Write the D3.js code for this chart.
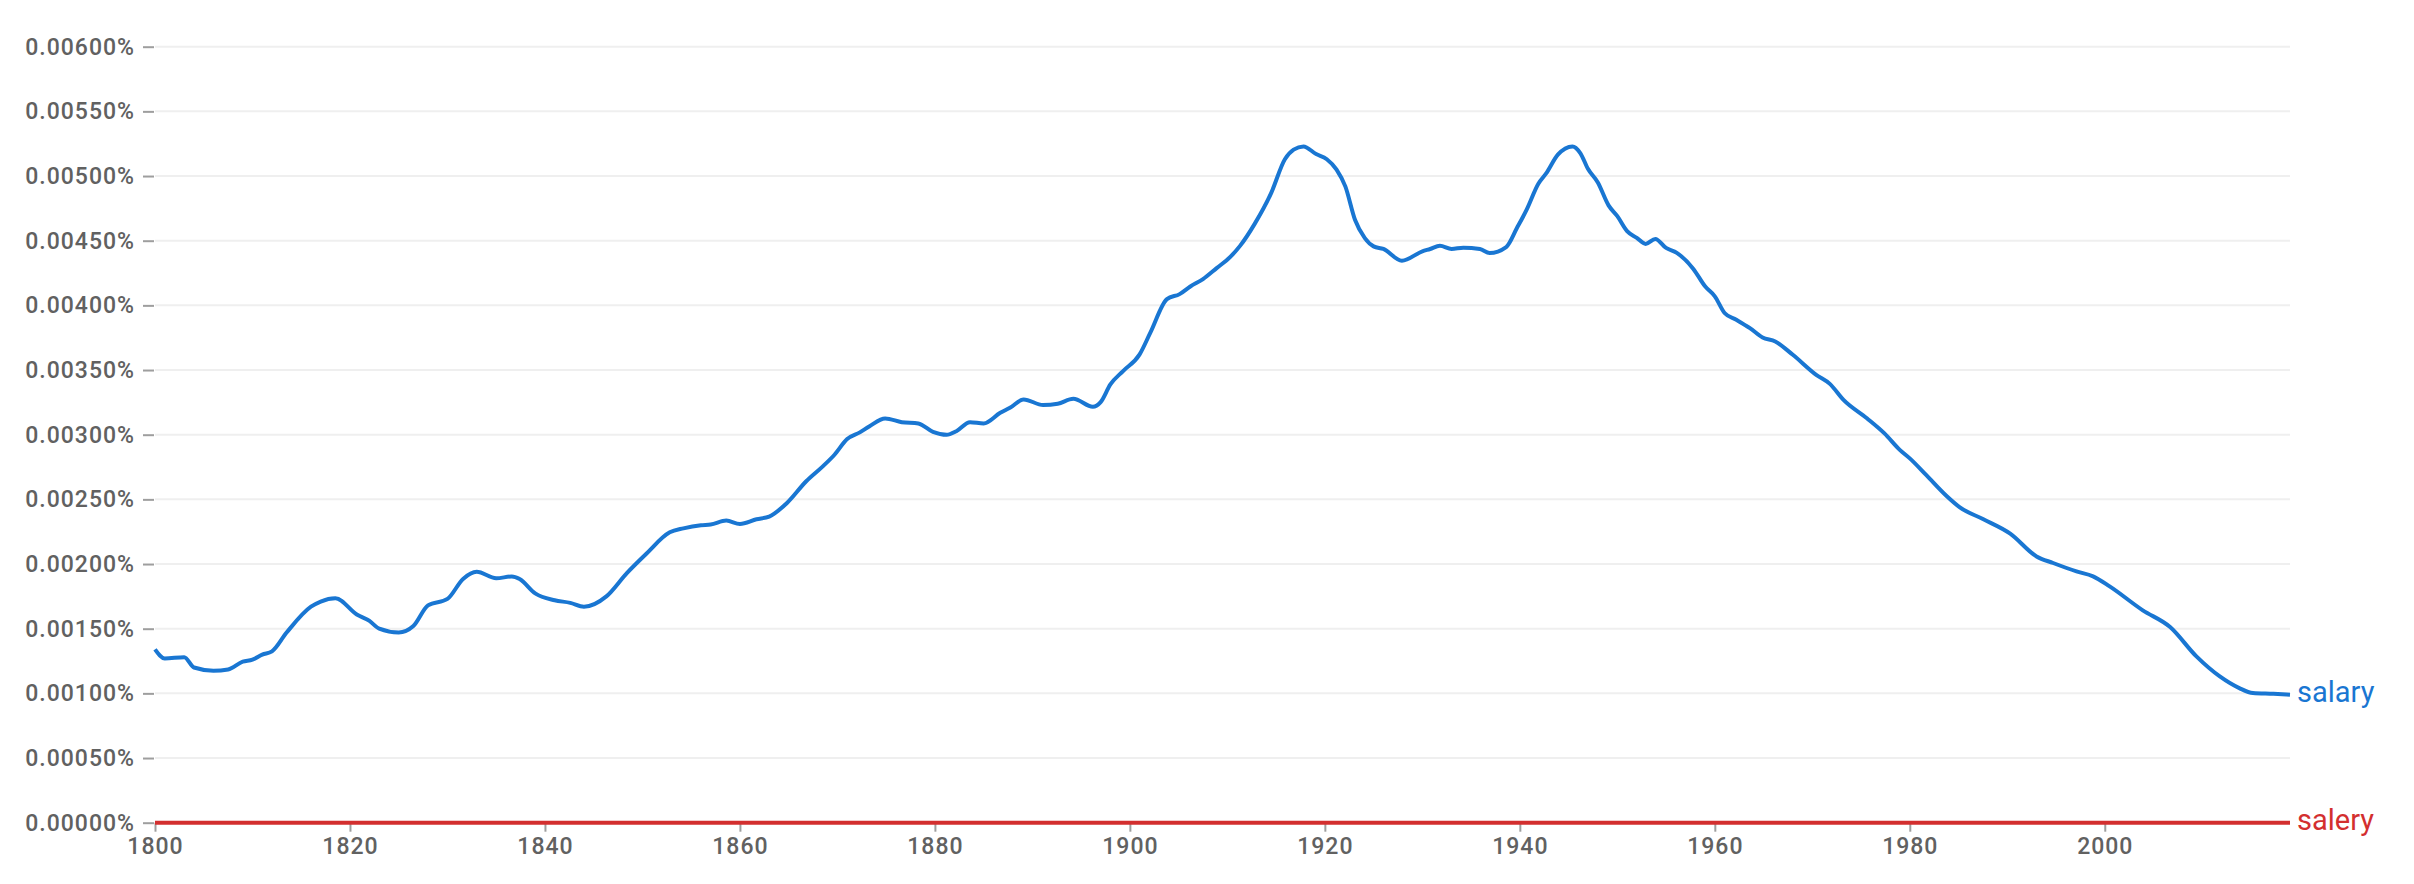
<!DOCTYPE html>
<html>
<head>
<meta charset="utf-8">
<script src="https://cdnjs.cloudflare.com/ajax/libs/d3/7.8.5/d3.min.js"></script>
<style>
    html, body { margin: 0; padding: 0; background: #fff; }
    #chart { width: 2414px; height: 884px; }
    .tick-label { font-family: Roboto, "Noto Sans", sans-serif; font-size: 23px; font-weight: 500; fill: #616161; letter-spacing: 1px; }
    .series-label { font-family: Roboto, "Noto Sans", sans-serif; font-size: 29px; }
</style>
</head>
<body>
<div id="chart"></div>
<script>
// series names
var seriesNames = ["salary", "salery"];

// salary (value in percent)
var salaryYears = [
    1800, 1801, 1803, 1804, 1806, 1807.5, 1809, 1810, 1811, 1812, 1813.5, 1816, 1817, 1818.5,
    1820.7, 1822, 1823, 1825, 1826.5, 1828, 1830, 1831.6, 1833, 1835, 1836.6, 1837.4, 1839,
    1841, 1842.6, 1844, 1846.3, 1848.4, 1850.4, 1852.8, 1854.2, 1856, 1857, 1858.6, 1860,
    1861.7, 1863, 1864.8, 1866.8, 1868.5, 1869.7, 1871, 1872.3, 1873.3, 1874.9, 1876.6,
    1878.3, 1879.8, 1881.2, 1882.2, 1883.6, 1885, 1886.7, 1887.7, 1889.1, 1891.1, 1892.6,
    1894.2, 1896.2, 1897, 1898, 1899.3, 1901, 1902.1, 1903.8, 1905.1, 1906.2, 1907.5, 1908.9,
    1910.3, 1911.3, 1912.8, 1914.5, 1915.9, 1916.8, 1917.8, 1919.1, 1920.2, 1921.2, 1922.1,
    1923.1, 1924.1, 1925, 1926, 1927.9, 1930, 1930.8, 1931.8, 1933, 1934.2, 1935.9, 1936.9,
    1938.6, 1939.7, 1940.7, 1941.9, 1942.7, 1943.9, 1945.4, 1946.2, 1947, 1948, 1949.1, 1950,
    1951, 1952, 1952.9, 1953.9, 1955, 1956.1, 1957.8, 1959, 1960, 1961, 1962.2, 1963.6, 1964.9,
    1966.2, 1968, 1970.4, 1971.8, 1973.2, 1975.6, 1977.4, 1979, 1980, 1981.7, 1983.8, 1985.1,
    1987.5, 1990.3, 1993, 1994.7, 1997.1, 1998.8, 2000.5, 2003.9, 2006.7, 2009.4, 2011.8,
    2013.8, 2015.2, 2017.3, 2019
];
var salaryValues = [
    0.00134, 0.00127, 0.00128, 0.00120, 0.001175, 0.001185, 0.001245, 0.00126, 0.00130, 0.001325, 0.00147, 0.00167, 0.00171, 0.001735,
    0.00161, 0.00156, 0.00150, 0.00147, 0.00152, 0.00168, 0.00173, 0.001885, 0.00194, 0.00189, 0.001904, 0.001884, 0.001773,
    0.00172, 0.00170, 0.00167, 0.00175, 0.00193, 0.00208, 0.002245, 0.002276, 0.00230, 0.002305, 0.002336, 0.00231,
    0.002346, 0.002367, 0.00247, 0.00264, 0.002755, 0.002845, 0.002966, 0.003018, 0.003066, 0.003125, 0.003097,
    0.003087, 0.003022, 0.002999, 0.003027, 0.003097, 0.003087, 0.003169, 0.003208, 0.003273, 0.003229, 0.003239,
    0.003278, 0.003216, 0.003252, 0.003389, 0.003492, 0.003621, 0.003789, 0.004048, 0.004087, 0.004146, 0.004203, 0.004288,
    0.004375, 0.00446, 0.00463, 0.00487, 0.00513, 0.005204, 0.005229, 0.00517, 0.00513, 0.00505, 0.00492,
    0.00466, 0.00452, 0.004456, 0.004436, 0.004345, 0.004418, 0.004436, 0.004461, 0.004436, 0.004446, 0.004436, 0.004405,
    0.004451, 0.004598, 0.00474, 0.00494, 0.00502, 0.005165, 0.005229, 0.005178, 0.005054, 0.00495, 0.004773, 0.00469,
    0.004574, 0.004522, 0.004475, 0.004514, 0.004444, 0.004406, 0.004282, 0.004147, 0.00407, 0.003941, 0.003889, 0.003824, 0.003752,
    0.003721, 0.003618, 0.003463, 0.003393, 0.003269, 0.003127, 0.00301, 0.002881, 0.002817, 0.002687, 0.002524, 0.00244,
    0.002348, 0.002235, 0.002059, 0.002008, 0.001943, 0.001905, 0.001827, 0.001642, 0.001513, 0.001286, 0.001131,
    0.001041, 0.001003, 0.000997, 0.00099
];

// salery sits on the baseline the whole time
var saleryYears = [1800, 1820, 1840, 1860, 1880, 1900, 1920, 1940, 1960, 1980, 2000, 2019];
var saleryValues = [0, 0, 0, 0, 0, 0, 0, 0, 0, 0, 0, 0];

// axis ticks
var xTickYears = [1800, 1820, 1840, 1860, 1880, 1900, 1920, 1940, 1960, 1980, 2000];
var yTickValues = [0, 0.0005, 0.001, 0.0015, 0.002, 0.0025, 0.003, 0.0035, 0.004, 0.0045, 0.005, 0.0055, 0.006];

var colors = { "salary": "#1976d2", "salery": "#d32f2f" };

function createNgramChart(htmlId) {
    var width = 2414, height = 884;
    var margin = {top: 46.7, right: 124, bottom: 61.3, left: 155};

    var svg = d3.select(htmlId).append("svg")
        .attr("width", width)
        .attr("height", height);

    // scales
    var x = d3.scaleLinear()
        .domain([1800, 2019])
        .range([margin.left, width - margin.right]);
    var y = d3.scaleLinear()
        .domain([0, 0.006])
        .range([height - margin.bottom, margin.top]);

    // horizontal grid lines
    svg.append("g")
        .selectAll("line")
        .data(yTickValues)
        .enter().append("line")
        .attr("x1", x(1800))
        .attr("x2", x(2019))
        .attr("y1", function(d) { return y(d); })
        .attr("y2", function(d) { return y(d); })
        .attr("stroke", "#efefef")
        .attr("stroke-width", 2);

    // y axis: small dashes and percent labels
    var yAxis = svg.append("g")
        .attr("transform", "translate(" + (margin.left - 1) + ",0)")
        .call(d3.axisLeft(y)
            .tickValues(yTickValues)
            .tickSize(11)
            .tickPadding(8)
            .tickFormat(function(d) { return d.toFixed(5) + "%"; }));
    yAxis.select(".domain").remove();
    yAxis.selectAll("line").attr("stroke", "#9e9e9e").attr("stroke-width", 2);
    yAxis.selectAll("text").attr("class", "tick-label").attr("fill", null).attr("font-size", null).attr("font-family", null);

    // x axis
    var xAxis = svg.append("g")
        .attr("transform", "translate(0," + y(0) + ")")
        .call(d3.axisBottom(x)
            .tickValues(xTickYears)
            .tickSize(9)
            .tickPadding(6)
            .tickFormat(d3.format("d")));
    xAxis.select(".domain").remove();
    xAxis.selectAll("line").attr("stroke", "#9e9e9e").attr("stroke-width", 2);
    xAxis.selectAll("text").attr("class", "tick-label").attr("fill", null).attr("font-size", null).attr("font-family", null);

    var series = [
        { name: seriesNames[0], years: salaryYears, values: salaryValues },
        { name: seriesNames[1], years: saleryYears, values: saleryValues }
    ];

    var line = d3.line()
        .x(function(d) { return x(d[0]); })
        .y(function(d) { return y(d[1]); })
        .curve(d3.curveMonotoneX);

    // draw the lines, red one last so it sits on the baseline
    series.forEach(function(s) {
        var pts = s.years.map(function(yr, i) { return [yr, s.values[i]]; });
        svg.append("path")
            .datum(pts)
            .attr("fill", "none")
            .attr("stroke", colors[s.name])
            .attr("stroke-width", 4)
            .attr("stroke-linejoin", "round")
            .attr("d", line);

        var last = pts[pts.length - 1];
        svg.append("text")
            .attr("class", "series-label")
            .attr("x", x(last[0]) + 7)
            .attr("y", y(last[1]) - 3)
            .attr("dy", "0.35em")
            .attr("fill", colors[s.name])
            .text(s.name);
    });
}

createNgramChart("#chart");
</script>
</body>
</html>
